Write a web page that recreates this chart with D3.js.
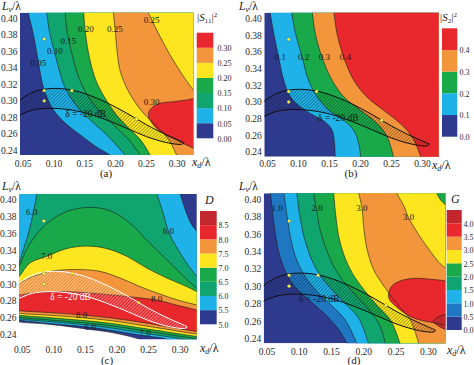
<!DOCTYPE html>
<html>
<head>
<meta charset="utf-8">
<script src="https://cdn.jsdelivr.net/npm/d3@7"></script>
<style>
  body { margin: 0; background: #fff; }
  svg { display: block; font-family: 'Liberation Serif', 'Times New Roman', serif; }
</style>
</head>
<body>
<div id="graf"></div>
<script>
// Mapas de contorno |S11|^2, |S21|^2, D y G en el plano (x_d/λ, L_v/λ)

// ejes compartidos
xDom   = [0.0457, 0.327]
yDom   = [0.2343, 0.4069]
xTicks = [0.05, 0.10, 0.15, 0.20, 0.25, 0.30]
yTicks = [0.24, 0.26, 0.28, 0.30, 0.32, 0.34, 0.36, 0.38, 0.40]

// puntos de diseño (amarillos)
puntos = [[0.085, 0.375], [0.085, 0.3125], [0.085, 0.30], [0.13, 0.3125], [0.235, 0.278]]

// contorno δ = -20 dB (igual en los cuatro paneles)
elipse = [[0.035,0.296],[0.0457,0.301],[0.062,0.309],[0.084,0.314],[0.108,0.315],[0.130,0.313],
  [0.154,0.308],[0.186,0.298],[0.219,0.285],[0.251,0.271],[0.284,0.2586],[0.305,0.2517],[0.312,0.249],
  [0.308,0.2473],[0.284,0.2493],[0.251,0.2566],[0.219,0.2667],[0.186,0.2768],[0.154,0.2849],
  [0.121,0.2897],[0.094,0.2909],[0.067,0.2889],[0.0457,0.2828],[0.035,0.279]]

// ---- (a) |S11|^2 ----
s11Niveles = ['0.00', '0.05', '0.10', '0.15', '0.20', '0.25', '0.30']
s11_005 = [[0.058,0.412],[0.059,0.407],[0.067,0.382],[0.073,0.358],[0.077,0.341],[0.082,0.321],[0.089,0.305],[0.100,0.289],[0.119,0.273],[0.143,0.259],[0.170,0.244],[0.192,0.234],[0.197,0.230]]
s11_010 = [[0.088,0.412],[0.089,0.407],[0.094,0.382],[0.101,0.361],[0.108,0.341],[0.116,0.321],[0.127,0.305],[0.143,0.289],[0.165,0.273],[0.186,0.259],[0.205,0.244],[0.216,0.234],[0.219,0.230]]
s11_015 = [[0.118,0.412],[0.119,0.407],[0.121,0.390],[0.125,0.373],[0.131,0.354],[0.139,0.333],[0.149,0.315],[0.162,0.299],[0.181,0.283],[0.203,0.267],[0.222,0.253],[0.241,0.234],[0.244,0.230]]
s11_020 = [[0.148,0.412],[0.149,0.407],[0.151,0.388],[0.155,0.366],[0.162,0.341],[0.171,0.321],[0.184,0.303],[0.200,0.285],[0.222,0.267],[0.241,0.253],[0.257,0.234],[0.259,0.230]]
s11_025a = [[0.196,0.412],[0.197,0.407],[0.200,0.388],[0.203,0.362],[0.208,0.337],[0.218,0.317],[0.230,0.301],[0.246,0.285],[0.268,0.269],[0.287,0.253],[0.300,0.234],[0.302,0.230]]
s11_025b = [[0.252,0.412],[0.254,0.407],[0.259,0.399],[0.273,0.378],[0.289,0.356],[0.308,0.333],[0.327,0.313],[0.335,0.305]]
s11_030 = [[0.254,0.283],[0.259,0.291],[0.273,0.297],[0.295,0.299],[0.316,0.301],[0.336,0.302],[0.336,0.242],[0.316,0.2465],[0.300,0.2525],[0.278,0.2606],[0.262,0.2707]]
s11Etiq = [['0.05',0.0754,0.3455],['0.10',0.1025,0.3608],['0.15',0.1241,0.3729],['0.20',0.1528,0.3879],['0.25',0.1999,0.3879],['0.25',0.2594,0.3988],['0.30',0.2594,0.2982]]

// ---- (b) |S21|^2 ----
s21Niveles = ['0.0', '0.1', '0.2', '0.3', '0.4']
s21_01 = [[0.054,0.412],[0.055,0.407],[0.061,0.382],[0.069,0.353],[0.077,0.326],[0.088,0.306],[0.104,0.294],[0.125,0.284],[0.144,0.276],[0.155,0.266],[0.159,0.250],[0.160,0.234],[0.160,0.230]]
s21_02 = [[0.089,0.412],[0.090,0.407],[0.096,0.382],[0.107,0.353],[0.117,0.326],[0.131,0.306],[0.150,0.290],[0.174,0.278],[0.190,0.266],[0.198,0.250],[0.201,0.234],[0.201,0.230]]
s21_03 = [[0.122,0.412],[0.123,0.407],[0.128,0.382],[0.139,0.353],[0.155,0.326],[0.174,0.306],[0.201,0.290],[0.228,0.274],[0.244,0.258],[0.254,0.234],[0.255,0.230]]
s21_04 = [[0.157,0.412],[0.158,0.407],[0.163,0.382],[0.174,0.353],[0.190,0.326],[0.211,0.306],[0.238,0.290],[0.265,0.274],[0.284,0.258],[0.298,0.234],[0.299,0.230]]
s21Etiq = [['0.1',0.0715,0.3534],['0.2',0.1092,0.3534],['0.3',0.1425,0.3534],['0.4',0.1764,0.3534]]

// ---- (c) D ----
dNiveles = ['5.0', '5.5', '6.0', '6.5', '7.0', '7.5', '8.0', '8.5']
d_50   = [[0.038,0.257],[0.046,0.255],[0.095,0.252],[0.158,0.246],[0.195,0.242],[0.237,0.234],[0.245,0.230]]
d_55   = [[0.299,0.412],[0.301,0.407],[0.309,0.388],[0.318,0.372],[0.327,0.363],[0.334,0.359]]
d_55lo = [[0.038,0.258],[0.046,0.257],[0.095,0.253],[0.158,0.2485],[0.195,0.2446],[0.243,0.2387],[0.280,0.2343],[0.287,0.231]]
d_60L  = [[0.040,0.302],[0.046,0.325],[0.054,0.344],[0.062,0.364],[0.068,0.384],[0.074,0.407],[0.075,0.412]]
d_60R  = [[0.262,0.412],[0.264,0.407],[0.274,0.384],[0.282,0.363],[0.295,0.344],[0.311,0.325],[0.327,0.309],[0.334,0.303]]
d_60lo = [[0.038,0.2595],[0.046,0.2584],[0.095,0.2553],[0.158,0.2509],[0.195,0.2474],[0.243,0.2418],[0.280,0.2375],[0.311,0.2335],[0.318,0.231]]
d_65   = [[0.040,0.312],[0.046,0.321],[0.063,0.348],[0.090,0.372],[0.121,0.386],[0.156,0.391],[0.190,0.387],[0.222,0.372],[0.248,0.352],[0.274,0.333],[0.301,0.313],[0.327,0.295],[0.334,0.292]]
d_65lo = [[0.038,0.2615],[0.046,0.2604],[0.095,0.2572],[0.145,0.2541],[0.195,0.2501],[0.243,0.2446],[0.280,0.2402],[0.311,0.2367],[0.327,0.2347],[0.334,0.233]]
d_70   = [[0.040,0.306],[0.046,0.309],[0.063,0.325],[0.090,0.333],[0.121,0.342],[0.153,0.345],[0.185,0.342],[0.216,0.333],[0.248,0.319],[0.280,0.307],[0.311,0.297],[0.327,0.291],[0.334,0.288]]
d_70lo = [[0.038,0.264],[0.046,0.2628],[0.095,0.260],[0.145,0.2568],[0.195,0.2529],[0.245,0.247],[0.280,0.243],[0.311,0.2394],[0.327,0.2375],[0.334,0.236]]
d_75   = [[0.040,0.299],[0.046,0.301],[0.068,0.309],[0.095,0.315],[0.121,0.317],[0.148,0.317],[0.174,0.315],[0.206,0.307],[0.237,0.297],[0.269,0.288],[0.301,0.280],[0.327,0.275],[0.334,0.273]]
d_75lo = [[0.038,0.2665],[0.046,0.2652],[0.095,0.2628],[0.145,0.260],[0.195,0.2561],[0.243,0.2505],[0.280,0.2462],[0.311,0.2422],[0.327,0.2406],[0.334,0.2395]]
d_80   = [[0.040,0.286],[0.046,0.287],[0.079,0.290],[0.121,0.291],[0.163,0.289],[0.206,0.286],[0.243,0.283],[0.264,0.281],[0.295,0.275],[0.327,0.269],[0.334,0.267]]
d_80lo = [[0.038,0.2695],[0.046,0.2683],[0.095,0.266],[0.145,0.2632],[0.195,0.2592],[0.243,0.2541],[0.280,0.2493],[0.311,0.2454],[0.327,0.2434],[0.334,0.2425]]
dEtiq = [['6.0',0.0658,0.3859],['6.0',0.2822,0.3634],['7.0',0.0895,0.3333],['8.0',0.2637,0.2818],['8.0',0.1449,0.2632],['7.0',0.2452,0.2422],['6.0',0.1581,0.2493]]

// ---- (d) G ----
gNiveles = ['0.0', '0.5', '1.0', '1.5', '2.0', '2.5', '3.0', '3.5', '4.0']
g_05  = [[0.055,0.412],[0.056,0.407],[0.061,0.376],[0.067,0.346],[0.077,0.321],[0.092,0.301],[0.113,0.286],[0.139,0.269],[0.162,0.250],[0.175,0.234],[0.178,0.230]]
g_10  = [[0.076,0.412],[0.077,0.407],[0.082,0.380],[0.088,0.353],[0.097,0.330],[0.110,0.311],[0.128,0.294],[0.152,0.277],[0.172,0.261],[0.190,0.234],[0.192,0.230]]
g_15  = [[0.096,0.412],[0.097,0.407],[0.101,0.384],[0.108,0.357],[0.118,0.334],[0.131,0.315],[0.149,0.298],[0.172,0.280],[0.193,0.263],[0.208,0.234],[0.210,0.230]]
g_20  = [[0.122,0.412],[0.123,0.407],[0.127,0.390],[0.133,0.365],[0.143,0.342],[0.154,0.323],[0.170,0.305],[0.190,0.288],[0.211,0.271],[0.226,0.254],[0.234,0.234],[0.235,0.230]]
g_25  = [[0.153,0.412],[0.154,0.407],[0.157,0.384],[0.162,0.357],[0.170,0.336],[0.183,0.315],[0.201,0.296],[0.221,0.278],[0.242,0.261],[0.257,0.234],[0.259,0.230]]
g_25b = [[0.312,0.412],[0.314,0.407],[0.320,0.399],[0.327,0.394],[0.334,0.390]]
g_30a = [[0.192,0.412],[0.193,0.407],[0.198,0.390],[0.201,0.365],[0.206,0.342],[0.216,0.319],[0.232,0.300],[0.252,0.280],[0.273,0.261],[0.286,0.234],[0.288,0.230]]
g_30b = [[0.250,0.412],[0.252,0.407],[0.263,0.392],[0.270,0.379],[0.286,0.359],[0.304,0.340],[0.319,0.326],[0.327,0.321],[0.334,0.316]]
g_35  = [[0.239,0.290],[0.244,0.300],[0.257,0.306],[0.278,0.309],[0.304,0.308],[0.330,0.305],[0.336,0.300],[0.336,0.260],[0.330,0.256],[0.309,0.258],[0.288,0.261],[0.268,0.267],[0.250,0.277],[0.241,0.284]]
g_40  = [[0.309,0.259],[0.317,0.265],[0.330,0.267],[0.338,0.262],[0.338,0.252],[0.330,0.250],[0.317,0.254]]
gEtiq = [['1.0',0.0664,0.3896],['2.0',0.1283,0.3896],['3.0',0.1979,0.3896],['3.0',0.2702,0.3793]]

// colores de la escala
DB = '#2d3a8e'; MB = '#1f77c2'; LB = '#1fb2e8'; TE = '#10a46e'; GR = '#19a84a'
YE = '#fde61f'; OR = '#f2953b'; RD = '#e8282d'; DR = '#c1272d'

// esquinas fuera del area (se recortan)
TL = [[0.03, 0.42]]; TR = [[0.345, 0.42]]; BR = [[0.345, 0.22]]
rev = a => a.slice().reverse()

paneles = [
  { id: 'a', x0: 20, x1: 193.3, y0: 12.7, y1: 155, fondo: DB, xlab: 166.5,
    regiones: [
      { c: LB, p: [s11_005, BR, TR] }, { c: TE, p: [s11_010, BR, TR] },
      { c: GR, p: [s11_015, BR, TR] }, { c: YE, p: [s11_020, BR, TR] },
      { c: OR, p: [s11_025a, BR, rev(s11_025b)] }, { c: RD, k: s11_030 }],
    lineas: [s11_005, s11_010, s11_015, s11_020, s11_025a, s11_025b], cerr: [s11_030],
    etiq: s11Etiq, delta: [0.119, 0.285],
    barra: { x: 196.7, w: 16.6, top: 32.7, bot: 138.3, lx: 217.5, col: [DB, LB, TE, GR, YE, OR, RD], niv: s11Niveles },
    tit: { x: 197, y: 21, sub: '11' }, ty: [2, 10], tx: [192, 166], letra: [106, 177] },
  { id: 'b', x0: 264.3, x1: 438.7, y0: 12.7, y1: 156.7, fondo: DB, xlab: 167.5,
    regiones: [
      { c: LB, p: [s21_01, BR, TR] }, { c: GR, p: [s21_02, BR, TR] },
      { c: OR, p: [s21_03, BR, TR] }, { c: RD, p: [s21_04, BR, TR] }],
    lineas: [s21_01, s21_02, s21_03, s21_04], cerr: [],
    etiq: s21Etiq, delta: [0.132, 0.281],
    barra: { x: 442, w: 15.3, top: 28.3, bot: 136.7, lx: 459.5, col: [DB, LB, GR, OR, RD], niv: s21Niveles },
    tit: { x: 440, y: 21, sub: '2' }, ty: [239, 10], tx: [432, 169], letra: [351, 177] },
  { id: 'c', x0: 19, x1: 196.7, y0: 194, y1: 339.3, fondo: '#ffffff', xlab: 353, blanco: true,
    regiones: [
      { c: DB, p: [TL, TR, BR, rev(d_50)] },
      { c: LB, p: [TL, d_55, BR, rev(d_55lo)] },
      { c: TE, p: [d_60L, d_60R, BR, rev(d_60lo)] },
      { c: GR, p: [d_65, BR, rev(d_65lo)] },
      { c: YE, p: [d_70, BR, rev(d_70lo)] },
      { c: OR, p: [d_75, BR, rev(d_75lo)] },
      { c: RD, p: [d_80, BR, rev(d_80lo)] }],
    lineas: [d_50, d_55, d_55lo, d_60L, d_60R, d_60lo, d_65, d_65lo, d_70, d_70lo, d_75, d_75lo, d_80, d_80lo], cerr: [],
    etiq: dEtiq, delta: [0.095, 0.285],
    barra: { x: 200, w: 16.7, top: 211, bot: 324.3, lx: 218.5, col: [DB, LB, TE, GR, YE, OR, RD, DR], niv: dNiveles },
    tit: { x: 205, y: 204, letra: 'D' }, ty: [2, 190], tx: [200, 352], letra: [107, 364] },
  { id: 'd', x0: 263.7, x1: 445.3, y0: 193.3, y1: 343.3, fondo: DB, xlab: 355,
    regiones: [
      { c: MB, p: [g_05, BR, TR] }, { c: LB, p: [g_10, BR, TR] },
      { c: TE, p: [g_15, BR, TR] }, { c: GR, p: [g_20, BR, TR] },
      { c: YE, p: [g_25, BR, TR] }, { c: OR, p: [g_30a, BR, rev(g_30b)] },
      { c: GR, p: [g_25b, TR] }, { c: RD, k: g_35 }, { c: DR, k: g_40 }],
    lineas: [g_05, g_10, g_15, g_20, g_25, g_25b, g_30a, g_30b], cerr: [g_35, g_40],
    etiq: gEtiq, delta: [0.100, 0.286],
    barra: { x: 446.7, w: 15, top: 210, bot: 330, lx: 463.5, col: [DB, MB, LB, TE, GR, YE, OR, RD, DR], niv: gNiveles },
    tit: { x: 451, y: 203, letra: 'G' }, ty: [239, 190], tx: [447, 354], letra: [354, 364] }
]

svg = d3.select('#graf').append('svg')
        .attr('width', 474)
        .attr('height', 365)

defs = svg.append('defs')
// rayado de la region δ < -20 dB
function patron(id, color, op) {
  defs.append('pattern')
      .attr('id', id)
      .attr('patternUnits', 'userSpaceOnUse')
      .attr('width', 2.4).attr('height', 2.4)
      .attr('patternTransform', 'rotate(45)')
    .append('line')
      .attr('x1', 0).attr('y1', 0).attr('x2', 0).attr('y2', 2.4)
      .attr('stroke', color).attr('stroke-opacity', op).attr('stroke-width', 0.8)
}
patron('rayado', '#000', 0.7)
patron('rayadoB', '#fff', 0.9)

paneles.forEach(p => dibujar(p))

function dibujar(p) {
  x = d3.scaleLinear().domain(xDom).range([p.x0, p.x1])
  y = d3.scaleLinear().domain(yDom).range([p.y1, p.y0])
  curva   = d3.line().x(d => x(d[0])).y(d => y(d[1])).curve(d3.curveCatmullRom)
  cerrada = d3.line().x(d => x(d[0])).y(d => y(d[1])).curve(d3.curveCatmullRomClosed)

  // une tramos de contorno y esquinas en un poligono
  function trazo(piezas) {
    s = ''
    piezas.forEach((t, i) => {
      let d = t.length > 1 ? curva(t).slice(1) : `${x(t[0][0])},${y(t[0][1])}`
      s += (i == 0 ? 'M' : 'L') + d
    })
    return s + 'Z'
  }

  g = svg.append('g')
  g.append('clipPath').attr('id', 'clip' + p.id)
    .append('rect')
    .attr('x', p.x0).attr('y', p.y0)
    .attr('width', p.x1 - p.x0).attr('height', p.y1 - p.y0)

  area = g.append('g').attr('clip-path', `url(#clip${p.id})`)
  area.append('rect')
      .attr('x', p.x0).attr('y', p.y0)
      .attr('width', p.x1 - p.x0).attr('height', p.y1 - p.y0)
      .attr('fill', p.fondo)

  p.regiones.forEach(r => {
    area.append('path')
        .attr('d', r.k ? cerrada(r.k) : trazo(r.p))
        .attr('fill', r.c)
  })

  // lineas de contorno
  p.lineas.forEach(l => area.append('path').attr('d', curva(l))
      .attr('fill', 'none').attr('stroke', '#1c1c1c').attr('stroke-width', 0.6))
  p.cerr.forEach(l => area.append('path').attr('d', cerrada(l))
      .attr('fill', 'none').attr('stroke', '#1c1c1c').attr('stroke-width', 0.6))

  // region δ = -20 dB
  area.append('path')
      .attr('d', cerrada(elipse))
      .attr('fill', `url(#${p.blanco ? 'rayadoB' : 'rayado'})`)
      .attr('stroke', p.blanco ? '#fff' : '#111')
      .attr('stroke-width', 1)

  area.selectAll('text.et')
    .data(p.etiq)
    .enter().append('text')
      .attr('x', d => x(d[1])).attr('y', d => y(d[2]))
      .attr('dy', '0.35em')
      .attr('text-anchor', 'middle')
      .attr('font-size', 9)
      .attr('fill', '#1a1a1a')
      .text(d => d[0])

  area.append('text')
      .attr('x', x(p.delta[0])).attr('y', y(p.delta[1]))
      .attr('dy', '0.35em')
      .attr('font-size', 9.5)
      .attr('fill', p.blanco ? '#fff' : '#1a1a1a')
      .text('δ = -20 dB')

  area.selectAll('circle')
    .data(puntos)
    .enter().append('circle')
      .attr('cx', d => x(d[0])).attr('cy', d => y(d[1]))
      .attr('r', 1.6)
      .attr('fill', '#ffff3c')
      .attr('stroke', '#666')
      .attr('stroke-width', 0.4)

  // ejes
  ejeY = g.append('g')
    .attr('transform', `translate(${p.x0},0)`)
    .call(d3.axisLeft(y).tickValues(yTicks).tickFormat(d3.format('.2f')).tickSize(0).tickPadding(2.5))
  ejeX = g.append('g')
    .attr('transform', `translate(0,${p.y1})`)
    .call(d3.axisBottom(x).tickValues(xTicks).tickFormat(d3.format('.2f')).tickSize(0).tickPadding(0))
  ejeX.selectAll('text').attr('dy', null).attr('y', p.xlab - p.y1)
  ;[ejeX, ejeY].forEach(e => {
    e.select('.domain').remove()
    e.attr('font-family', null)
    e.selectAll('text').attr('font-size', 9.5).attr('fill', '#2a2a2a')
  })

  // titulos de ejes
  t = g.append('text').attr('x', p.ty[0]).attr('y', p.ty[1]).attr('font-size', 11.5).attr('fill', '#222')
  t.append('tspan').attr('font-style', 'italic').text('L')
  t.append('tspan').attr('font-style', 'italic').attr('font-size', 8).attr('dy', 2).text('v')
  t.append('tspan').attr('dy', -2).text('/λ')

  t = g.append('text').attr('x', p.tx[0]).attr('y', p.tx[1]).attr('font-size', 12).attr('fill', '#222')
  t.append('tspan').attr('font-style', 'italic').text('x')
  t.append('tspan').attr('font-style', 'italic').attr('font-size', 8).attr('dy', 2).text('d')
  t.append('tspan').attr('dy', -2).text('/λ')

  g.append('text')
    .attr('x', p.letra[0]).attr('y', p.letra[1])
    .attr('text-anchor', 'middle')
    .attr('font-size', 11)
    .attr('fill', '#222')
    .text(`(${p.id})`)

  // barra de colores
  b = p.barra
  cb = d3.scaleLinear().domain([0, b.col.length]).range([b.bot, b.top])
  g.selectAll('rect.cb')
    .data(b.col)
    .enter().append('rect')
      .attr('x', b.x)
      .attr('y', (d, i) => cb(i + 1))
      .attr('width', b.w)
      .attr('height', (d, i) => cb(i) - cb(i + 1))
      .attr('fill', d => d)
  ejeC = g.append('g')
    .attr('transform', `translate(${b.lx},0)`)
    .call(d3.axisRight(cb).tickValues(d3.range(b.niv.length)).tickFormat(i => b.niv[i]).tickSize(0).tickPadding(0))
  ejeC.select('.domain').remove()
  ejeC.attr('font-family', null)
  ejeC.selectAll('text').attr('font-size', 8).attr('fill', '#2a2a2a').attr('dy', '0.35em')

  t = g.append('text').attr('x', p.tit.x).attr('y', p.tit.y).attr('font-size', 11).attr('fill', '#222')
  if (p.tit.letra) {
    t.attr('font-style', 'italic').attr('font-size', 12).text(p.tit.letra)
  } else {
    t.append('tspan').text('|')
    t.append('tspan').attr('font-style', 'italic').text('S')
    t.append('tspan').attr('font-size', 7).attr('dy', 2).text(p.tit.sub)
    t.append('tspan').attr('dy', -2).text('|')
    t.append('tspan').attr('font-size', 7).attr('dy', -4).text('2')
  }
}
</script>
</body>
</html>
